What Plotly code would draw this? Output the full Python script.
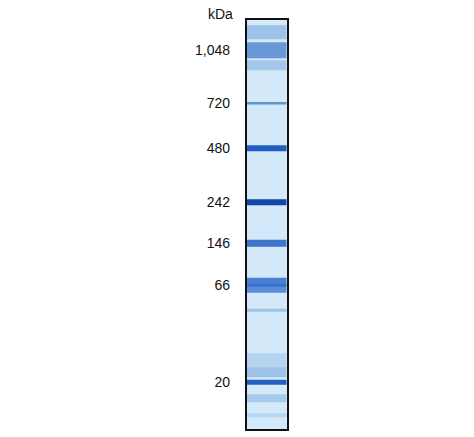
import plotly.graph_objects as go

marker_labels = ["1,048", "720", "480", "242", "146", "66", "20"]
marker_pos = [30, 83, 128, 182, 223, 265, 362]
unit_label = "kDa"

# band migration position, thickness (px), colour
band_pos = [12, 30, 45, 83, 128, 182, 223, 262, 268, 290, 340, 352, 362, 378, 395]
band_width = [14, 16, 10, 2.5, 6, 6, 7, 9, 9, 3, 14, 10, 5, 8, 4]
band_color = ["rgba(90,150,215,0.45)", "rgba(45,110,200,0.65)", "rgba(90,150,215,0.4)",
              "rgba(60,130,190,0.8)", "rgba(25,85,190,0.95)", "rgba(20,70,170,1)",
              "rgba(35,95,195,0.85)", "rgba(40,100,200,0.8)", "rgba(50,110,205,0.75)",
              "rgba(90,150,210,0.45)", "rgba(110,165,220,0.3)", "rgba(80,140,210,0.4)",
              "rgba(25,85,185,0.95)", "rgba(100,160,220,0.4)", "rgba(120,175,225,0.3)"]

fig = go.Figure()
for p, w, c in zip(band_pos, band_width, band_color):
    fig.add_trace(go.Scatter(x=[0, 1], y=[p, p], mode="lines",
                             line=dict(color=c, width=w), hoverinfo="skip"))

fig.add_annotation(text=unit_label, xref="x", yref="y", x=0, y=0, xanchor="right",
                   yanchor="bottom", xshift=-12, yshift=-4, showarrow=False,
                   font=dict(family="Liberation Sans, Arial", size=14, color="#111"))

fig.update_layout(
    width=474, height=437, margin=dict(l=0, r=0, t=0, b=0),
    paper_bgcolor="white", plot_bgcolor="#d3e8f8", showlegend=False,
    xaxis=dict(domain=[0.504, 0.588], range=[0, 1], showticklabels=False,
               showgrid=False, zeroline=False, showline=True, linecolor="#111",
               linewidth=2, mirror=True, ticks=""),
    yaxis=dict(domain=[0.036, 0.972], range=[409, 0], tickvals=marker_pos,
               ticktext=marker_labels, showgrid=False, zeroline=False,
               showline=True, linecolor="#111", linewidth=2, mirror=True,
               ticks="", ticklabelstandoff=12,
               tickfont=dict(family="Liberation Sans, Arial", size=14, color="#111")),
)
fig.write_html("out.html")
